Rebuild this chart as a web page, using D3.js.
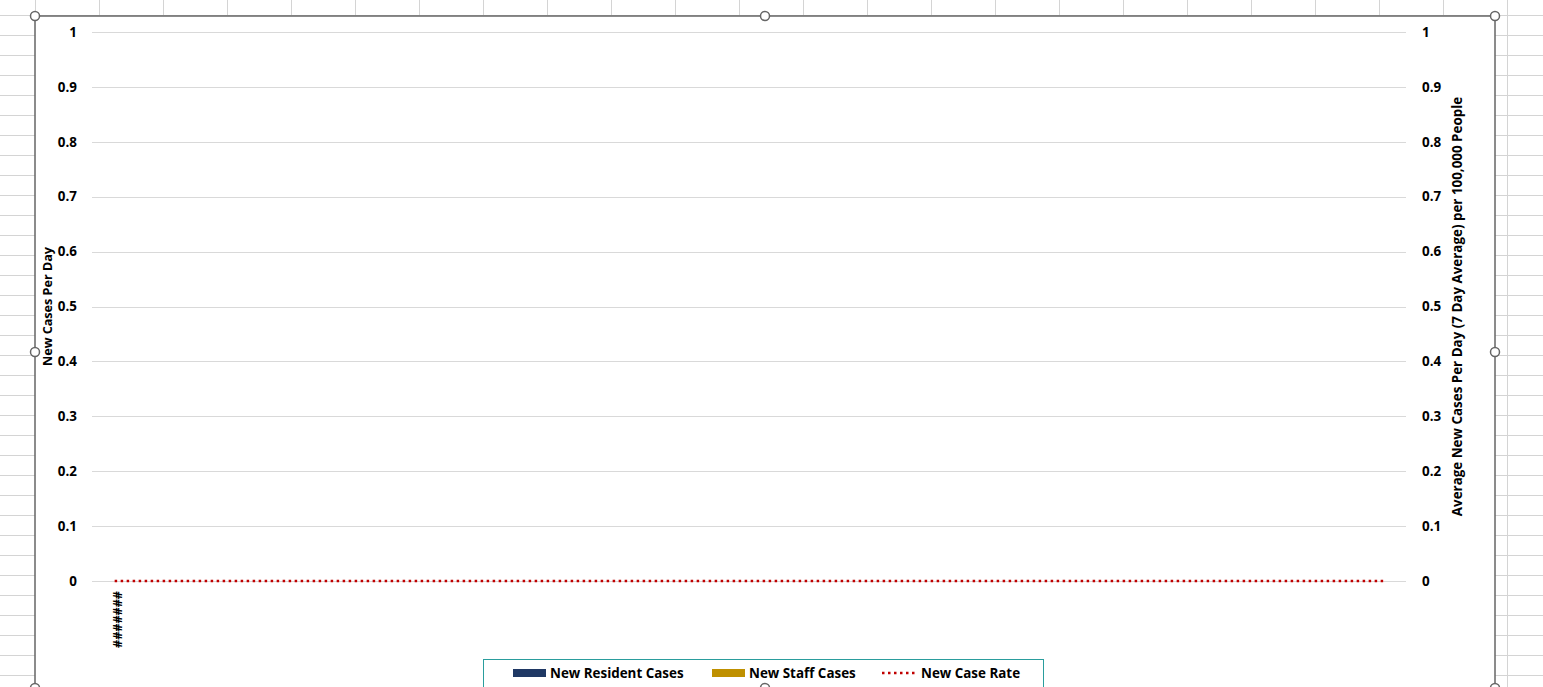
<!DOCTYPE html>
<html>
<head>
<meta charset="utf-8">
<script src="https://cdn.jsdelivr.net/npm/d3@7"></script>
<style>
  html, body { margin: 0; padding: 0; background: #fff; overflow: hidden; }
  svg { display: block; }
  text { font-family: "Open Sans", sans-serif; font-weight: bold; fill: #000; }
</style>
</head>
<body>
<svg id="chart" width="1543" height="687"></svg>
<script>
// ---- data ----
const categories = ["1","2","3","4","5","6","7","8","9","10","11","12","13","14","15","16","17","18","19","20","21","22","23","24","25","26","27","28","29"];
const xTickLabels = ["#######"];
const residentCases = [0,0,0,0,0,0,0,0,0,0,0,0,0,0,0,0,0,0,0,0,0,0,0,0,0,0,0,0,0];
const staffCases    = [0,0,0,0,0,0,0,0,0,0,0,0,0,0,0,0,0,0,0,0,0,0,0,0,0,0,0,0,0];
const caseRate      = [0,0,0,0,0,0,0,0,0,0,0,0,0,0,0,0,0,0,0,0,0,0,0,0,0,0,0,0,0];
const yTicks = [0,0.1,0.2,0.3,0.4,0.5,0.6,0.7,0.8,0.9,1];
const seriesNames = ["New Resident Cases","New Staff Cases","New Case Rate"];

const W = 1543, H = 687;
const FONT = "'Open Sans', sans-serif";
const FS = "13.4px";
const svg = d3.select("#chart");

// ---- spreadsheet background grid ----
const bg = svg.append("g");
const cellW = 64, cellH = 20;
d3.range(-29, W, cellW).forEach(x => {
  bg.append("line").attr("x1", x + 0.5).attr("x2", x + 0.5).attr("y1", 0).attr("y2", H)
    .attr("stroke", "#d4d4d4").attr("stroke-width", 1);
});
d3.range(15, H, cellH).forEach(y => {
  bg.append("line").attr("x1", 0).attr("x2", W).attr("y1", y + 0.5).attr("y2", y + 0.5)
    .attr("stroke", "#d4d4d4").attr("stroke-width", 1);
});

// ---- chart area ----
const cx0 = 35, cy0 = 16, cx1 = 1495, cy1 = 688;
svg.append("rect").attr("x", cx0).attr("y", cy0).attr("width", cx1 - cx0).attr("height", cy1 - cy0)
  .attr("fill", "#fff").attr("stroke", "#666").attr("stroke-width", 1.5);

const plot = { left: 92, right: 1406, top: 32, bottom: 581 };

const x = d3.scaleBand().domain(categories).range([plot.left, plot.right]).paddingInner(0.3).paddingOuter(0.15);
const xPoint = d3.scaleBand().domain(categories).range([plot.left, plot.right]);
const yL = d3.scaleLinear().domain([0, 1]).range([plot.bottom, plot.top]);
const yR = d3.scaleLinear().domain([0, 1]).range([plot.bottom, plot.top]);

// gridlines
const grid = svg.append("g");
yTicks.forEach(t => {
  grid.append("line").attr("x1", plot.left).attr("x2", plot.right)
    .attr("y1", Math.round(yL(t)) + 0.5).attr("y2", Math.round(yL(t)) + 0.5)
    .attr("stroke", "#d9d9d9").attr("stroke-width", 1);
});

// left axis
const leftAxis = d3.axisLeft(yL).tickValues(yTicks).tickFormat(d3.format("~g")).tickSize(0).tickPadding(15);
const gl = svg.append("g").attr("transform", `translate(${plot.left},0)`).call(leftAxis);
gl.select(".domain").remove();
gl.selectAll("text").style("font-size", FS).style("font-family", FONT).style("font-weight", "bold").attr("fill", "#000");

// right axis
const rightAxis = d3.axisRight(yR).tickValues(yTicks).tickFormat(d3.format("~g")).tickSize(0).tickPadding(16);
const gr = svg.append("g").attr("transform", `translate(${plot.right},0)`).call(rightAxis);
gr.select(".domain").remove();
gr.selectAll("text").style("font-size", FS).style("font-family", FONT).style("font-weight", "bold").attr("fill", "#000");

// bars (side by side)
const barW = x.bandwidth() / 2;
svg.append("g").selectAll("rect.res").data(categories).join("rect")
  .attr("x", d => x(d)).attr("width", barW)
  .attr("y", (d, i) => yL(residentCases[i])).attr("height", (d, i) => yL(0) - yL(residentCases[i]))
  .attr("fill", "#1f3864");
svg.append("g").selectAll("rect.staff").data(categories).join("rect")
  .attr("x", d => x(d) + barW).attr("width", barW)
  .attr("y", (d, i) => yL(staffCases[i])).attr("height", (d, i) => yL(0) - yL(staffCases[i]))
  .attr("fill", "#bf9000");

// rate line
const line = d3.line().x((d, i) => xPoint(categories[i]) + xPoint.bandwidth() / 2).y(d => yR(d));
svg.append("path").datum(caseRate).attr("d", line)
  .attr("fill", "none").attr("stroke", "#c00000").attr("stroke-width", 2.5)
  .attr("stroke-dasharray", "2.5,3.5");

// x tick labels
const xlab = svg.append("g");
xTickLabels.forEach((lab, i) => {
  const px = xPoint(categories[i]) + xPoint.bandwidth() / 2 + 3;
  xlab.append("text").attr("transform", `translate(${px},591) rotate(-90)`)
    .attr("text-anchor", "end").attr("dy", "0.35em").style("font-size", "12.6px").text(lab);
});

// axis titles
const midY = (plot.top + plot.bottom) / 2;
svg.append("text").attr("transform", `translate(48,${midY}) rotate(-90)`)
  .attr("text-anchor", "middle").attr("dy", "0.35em").style("font-size", "12.6px").text("New Cases Per Day");
svg.append("text").attr("transform", `translate(1457,${midY}) rotate(-90)`)
  .attr("text-anchor", "middle").attr("dy", "0.35em").style("font-size", FS)
  .text("Average New Cases Per Day (7 Day Average) per 100,000 People");

// legend
const lg = svg.append("g");
lg.append("rect").attr("x", 483.5).attr("y", 659.5).attr("width", 560).attr("height", 40)
  .attr("fill", "#fff").attr("stroke", "#2a9d9d").attr("stroke-width", 1);
const legendItems = [
  { name: seriesNames[0], type: "bar", color: "#1f3864", sx: 513, tx: 550 },
  { name: seriesNames[1], type: "bar", color: "#bf9000", sx: 712, tx: 749 },
  { name: seriesNames[2], type: "line", color: "#c00000", sx: 882, tx: 921 }
];
legendItems.forEach(it => {
  if (it.type === "bar") {
    lg.append("rect").attr("x", it.sx).attr("y", 669).attr("width", 33).attr("height", 8).attr("fill", it.color);
  } else {
    lg.append("line").attr("x1", it.sx).attr("x2", it.sx + 33).attr("y1", 673).attr("y2", 673)
      .attr("stroke", it.color).attr("stroke-width", 2.5).attr("stroke-dasharray", "2.5,3.5");
  }
  lg.append("text").attr("x", it.tx).attr("y", 678).style("font-size", FS).text(it.name);
});

// selection handles
const handles = [[cx0, cy0], [765, cy0], [cx1, cy0], [cx0, 352], [cx1, 352], [cx0, cy1], [765, cy1], [cx1, cy1]];
svg.append("g").selectAll("circle").data(handles).join("circle")
  .attr("cx", d => d[0]).attr("cy", d => d[1]).attr("r", 4.5)
  .attr("fill", "#fff").attr("stroke", "#666").attr("stroke-width", 1.5);
</script>
</body>
</html>
